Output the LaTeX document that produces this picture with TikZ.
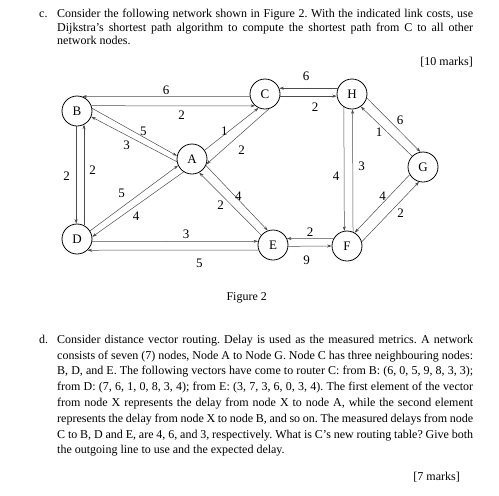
\documentclass[tikz,border=0pt]{standalone}
\usepackage{fontspec}
\setmainfont{Liberation Serif}
\usetikzlibrary{arrows.meta}
\frenchspacing

\begin{document}
\begin{tikzpicture}[
            x=1pt, y=-1pt,
            vertex/.style={draw, circle, line width=0.8pt, minimum size=30pt, inner sep=0pt, font=\fontsize{13}{13}\selectfont},
            cost/.style={inner sep=0pt, font=\fontsize{13}{13}\selectfont},
            link/.style={-{Stealth[length=4.5pt, width=3pt]}, draw=black!70, line width=0.5pt},
            para/.style={anchor=base west, inner sep=0pt, text width=416pt, align=justify},
            plain/.style={inner sep=0pt, font=\fontsize{12}{14}\selectfont}
        ]
        \useasboundingbox (0,0) rectangle (499,496);

        % part c
        \node[plain, anchor=base west] (labc) at (39,17.3) {c.};
        \node[para, font=\fontsize{12}{13.7}\selectfont] (textc) at (57,17.3)
            {Consider the following network shown in Figure 2. With the indicated link costs, use\linebreak
             Dijkstra’s shortest path algorithm to compute the shortest path from C to all other\linebreak
             network nodes.};
        \node[plain, anchor=base east] (markc) at (473,65.7) {[10 marks]};

        % network
        \node[vertex] (B) at (77,111) {B};
        \node[vertex] (C) at (265,94) {C};
        \node[vertex] (H) at (352,94) {H};
        \node[vertex] (A) at (192,159) {A};
        \node[vertex] (G) at (423,167) {G};
        \node[vertex] (D) at (77,239) {D};
        \node[vertex] (E) at (273,245) {E};
        \node[vertex] (F) at (347,246) {F};

        \draw[link] (C.190) -- (B.70);
        \draw[link] (B.20) -- (C.230);
        \draw[link] (H.158) -- (C.22);
        \draw[link] (C.-8) -- (H.188);
        \draw[link] (B.10) -- (A.168);
        \draw[link] (A.190) -- (B.-22);
        \draw[link] (A.35) -- (C.245);
        \draw[link] (C.285) -- (A.-20);
        \draw[link] (B.-93) -- (D.93);
        \draw[link] (D.63) -- (B.-63);
        \draw[link] (D.32) -- (A.205);
        \draw[link] (A.237) -- (D.8);
        \draw[link] (A.-25) -- (E.110);
        \draw[link] (E.140) -- (A.-62);
        \draw[link] (D.-10) -- (E.166);
        \draw[link] (E.199) -- (D.-47);
        \draw[link] (F.150) -- (E.25);
        \draw[link] (E.-5) -- (F.180);
        \draw[link] (H.238) -- (F.100);
        \draw[link] (F.67) -- (H.272);
        \draw[link] (H.-15) -- (G.100);
        \draw[link] (G.135) -- (H.-55);
        \draw[link] (G.210) -- (F.60);
        \draw[link] (F.16) -- (G.255);

        % link costs
        \node[cost] (cCB) at (166,90) {6};
        \node[cost] (cBC) at (181.7,115) {2};
        \node[cost] (cHC) at (306,76) {6};
        \node[cost] (cCH) at (315,106.7) {2};
        \node[cost] (cBA) at (143.3,131.7) {5};
        \node[cost] (cAB) at (126.7,145) {3};
        \node[cost] (cAC) at (224.3,131.7) {1};
        \node[cost] (cCA) at (241.7,150) {2};
        \node[cost] (cBD) at (66.7,176) {2};
        \node[cost] (cDB) at (92.7,170) {2};
        \node[cost] (cDA) at (121.7,193.3) {5};
        \node[cost] (cAD) at (136,216.7) {4};
        \node[cost] (cAE) at (238.3,196.7) {4};
        \node[cost] (cEA) at (220.7,205) {2};
        \node[cost] (cDE) at (186,234) {3};
        \node[cost] (cED) at (199.3,263.3) {5};
        \node[cost] (cFE) at (310,231.7) {2};
        \node[cost] (cEF) at (306.7,260) {9};
        \node[cost] (cHF) at (336,176) {4};
        \node[cost] (cFH) at (361.7,166.7) {3};
        \node[cost] (cHG) at (400,120) {6};
        \node[cost] (cGH) at (379,132.7) {1};
        \node[cost] (cGF) at (382.7,196.7) {4};
        \node[cost] (cFG) at (400.7,213.3) {2};

        \node[plain, anchor=base] (fig) at (246.7,300.7) {Figure 2};

        % part d
        \node[plain, anchor=base west] (labd) at (39,343.3) {d.};
        \node[para, font=\fontsize{12}{15.8}\selectfont] (textd) at (57,343.3)
            {Consider distance vector routing. Delay is used as the measured metrics. A network\linebreak
             consists of seven (7) nodes, Node A to Node G. Node C has three neighbouring nodes:\linebreak
             B, D, and E. The following vectors have come to router C: from B: (6, 0, 5, 9, 8, 3, 3);\linebreak
             from D: (7, 6, 1, 0, 8, 3, 4); from E: (3, 7, 3, 6, 0, 3, 4). The first element of the vector\linebreak
             from node X represents the delay from node X to node A, while the second element\linebreak
             represents the delay from node X to node B, and so on. The measured delays from node\linebreak
             C to B, D and E, are 4, 6, and 3, respectively. What is C’s new routing table? Give both\linebreak
             the outgoing line to use and the expected delay.};
        \node[plain, anchor=base east] (markd) at (460,480) {[7 marks]};
        \end{tikzpicture}
\end{document}
